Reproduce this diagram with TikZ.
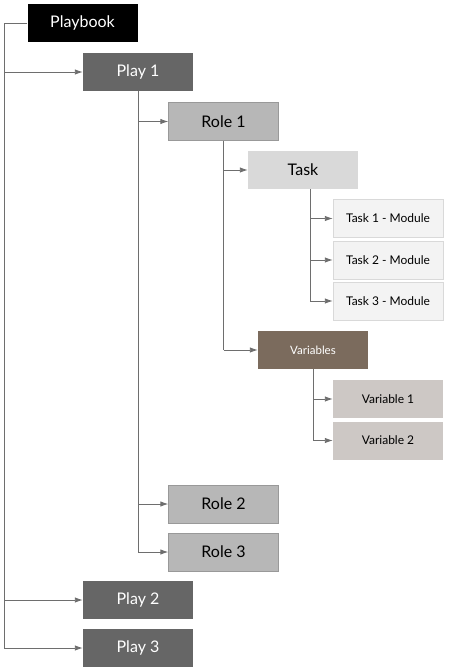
\documentclass[tikz,border=0pt]{standalone}
\usepackage{fontspec}
\setmainfont{Lato}
\usetikzlibrary{arrows.meta}
\definecolor{playgray}{HTML}{666666}
\definecolor{rolegray}{HTML}{B7B7B7}
\definecolor{taskgray}{HTML}{D9D9D9}
\definecolor{modgray}{HTML}{F3F3F3}
\definecolor{varbrown}{HTML}{7B6B5D}
\definecolor{varlight}{HTML}{CDC8C5}
\definecolor{linegray}{HTML}{6E6E6E}
\begin{document}
\begin{tikzpicture}[x=1pt,y=-1pt,
    box/.style={minimum width=110pt,minimum height=38pt,inner sep=0pt,draw=none},
    playbox/.style={box,fill=playgray,text=white,font=\fontsize{16}{18}\selectfont},
    rolebox/.style={box,fill=rolegray,draw=black!40,font=\fontsize{16}{18}\selectfont},
    taskbox/.style={box,fill=taskgray,font=\fontsize{16}{18}\selectfont},
    modbox/.style={box,fill=modgray,draw=taskgray,font=\fontsize{12}{14}\selectfont},
    varsbox/.style={box,fill=varbrown,text=white,font=\fontsize{11.5}{13}\selectfont},
    varbox/.style={box,fill=varlight,font=\fontsize{12}{14}\selectfont},
    link/.style={draw=linegray,line width=0.9pt},
    arrow/.style={link,-{Latex[length=8pt,width=5.5pt]}}]
    \useasboundingbox (0,0) rectangle (448,669);
    % playbook and plays
    \node[box,fill=black,text=white,font=\fontsize{16}{18}\selectfont] (playbook) at (82.5,23) {Playbook};
    \node[playbox] (play1) at (138,72) {Play 1};
    \node[playbox] (play2) at (138,600) {Play 2};
    \node[playbox] (play3) at (138,648) {Play 3};
    % roles
    \node[rolebox] (role1) at (223.5,121.5) {Role 1};
    \node[rolebox] (role2) at (223.5,504) {Role 2};
    \node[rolebox] (role3) at (223.5,552) {Role 3};
    % tasks
    \node[taskbox] (task) at (303,170) {Task};
    \node[modbox] (task1) at (388,218.5) {Task 1 - Module};
    \node[modbox] (task2) at (388,260) {Task 2 - Module};
    \node[modbox] (task3) at (388,301) {Task 3 - Module};
    % variables
    \node[varsbox] (vars) at (313,350) {Variables};
    \node[varbox] (var1) at (388,399) {Variable 1};
    \node[varbox] (var2) at (388,440.5) {Variable 2};
    % playbook tree
    \coordinate (pbtrunk) at (4,23);
    \draw[link] (playbook.west) -- (pbtrunk) -- (pbtrunk |- play3.west);
    \draw[arrow] (pbtrunk |- play1.west) -- (play1.west);
    \draw[arrow] (pbtrunk |- play2.west) -- (play2.west);
    \draw[arrow] (pbtrunk |- play3.west) -- (play3.west);
    % play 1 tree
    \draw[link] (play1.south) -- (play1.south |- role3.west);
    \draw[arrow] (play1.south |- role1.west) -- (role1.west);
    \draw[arrow] (play1.south |- role2.west) -- (role2.west);
    \draw[arrow] (play1.south |- role3.west) -- (role3.west);
    % role 1 tree
    \draw[link] (role1.south) -- (role1.south |- vars.west);
    \draw[arrow] (role1.south |- task.west) -- (task.west);
    \draw[arrow] (role1.south |- vars.west) -- (vars.west);
    % task tree
    \coordinate (tktrunk) at ([xshift=7pt]task.south);
    \draw[link] (tktrunk) -- (tktrunk |- task3.west);
    \draw[arrow] (tktrunk |- task1.west) -- (task1.west);
    \draw[arrow] (tktrunk |- task2.west) -- (task2.west);
    \draw[arrow] (tktrunk |- task3.west) -- (task3.west);
    % variables tree
    \draw[link] (vars.south) -- (vars.south |- var2.west);
    \draw[arrow] (vars.south |- var1.west) -- (var1.west);
    \draw[arrow] (vars.south |- var2.west) -- (var2.west);
\end{tikzpicture}
\end{document}
